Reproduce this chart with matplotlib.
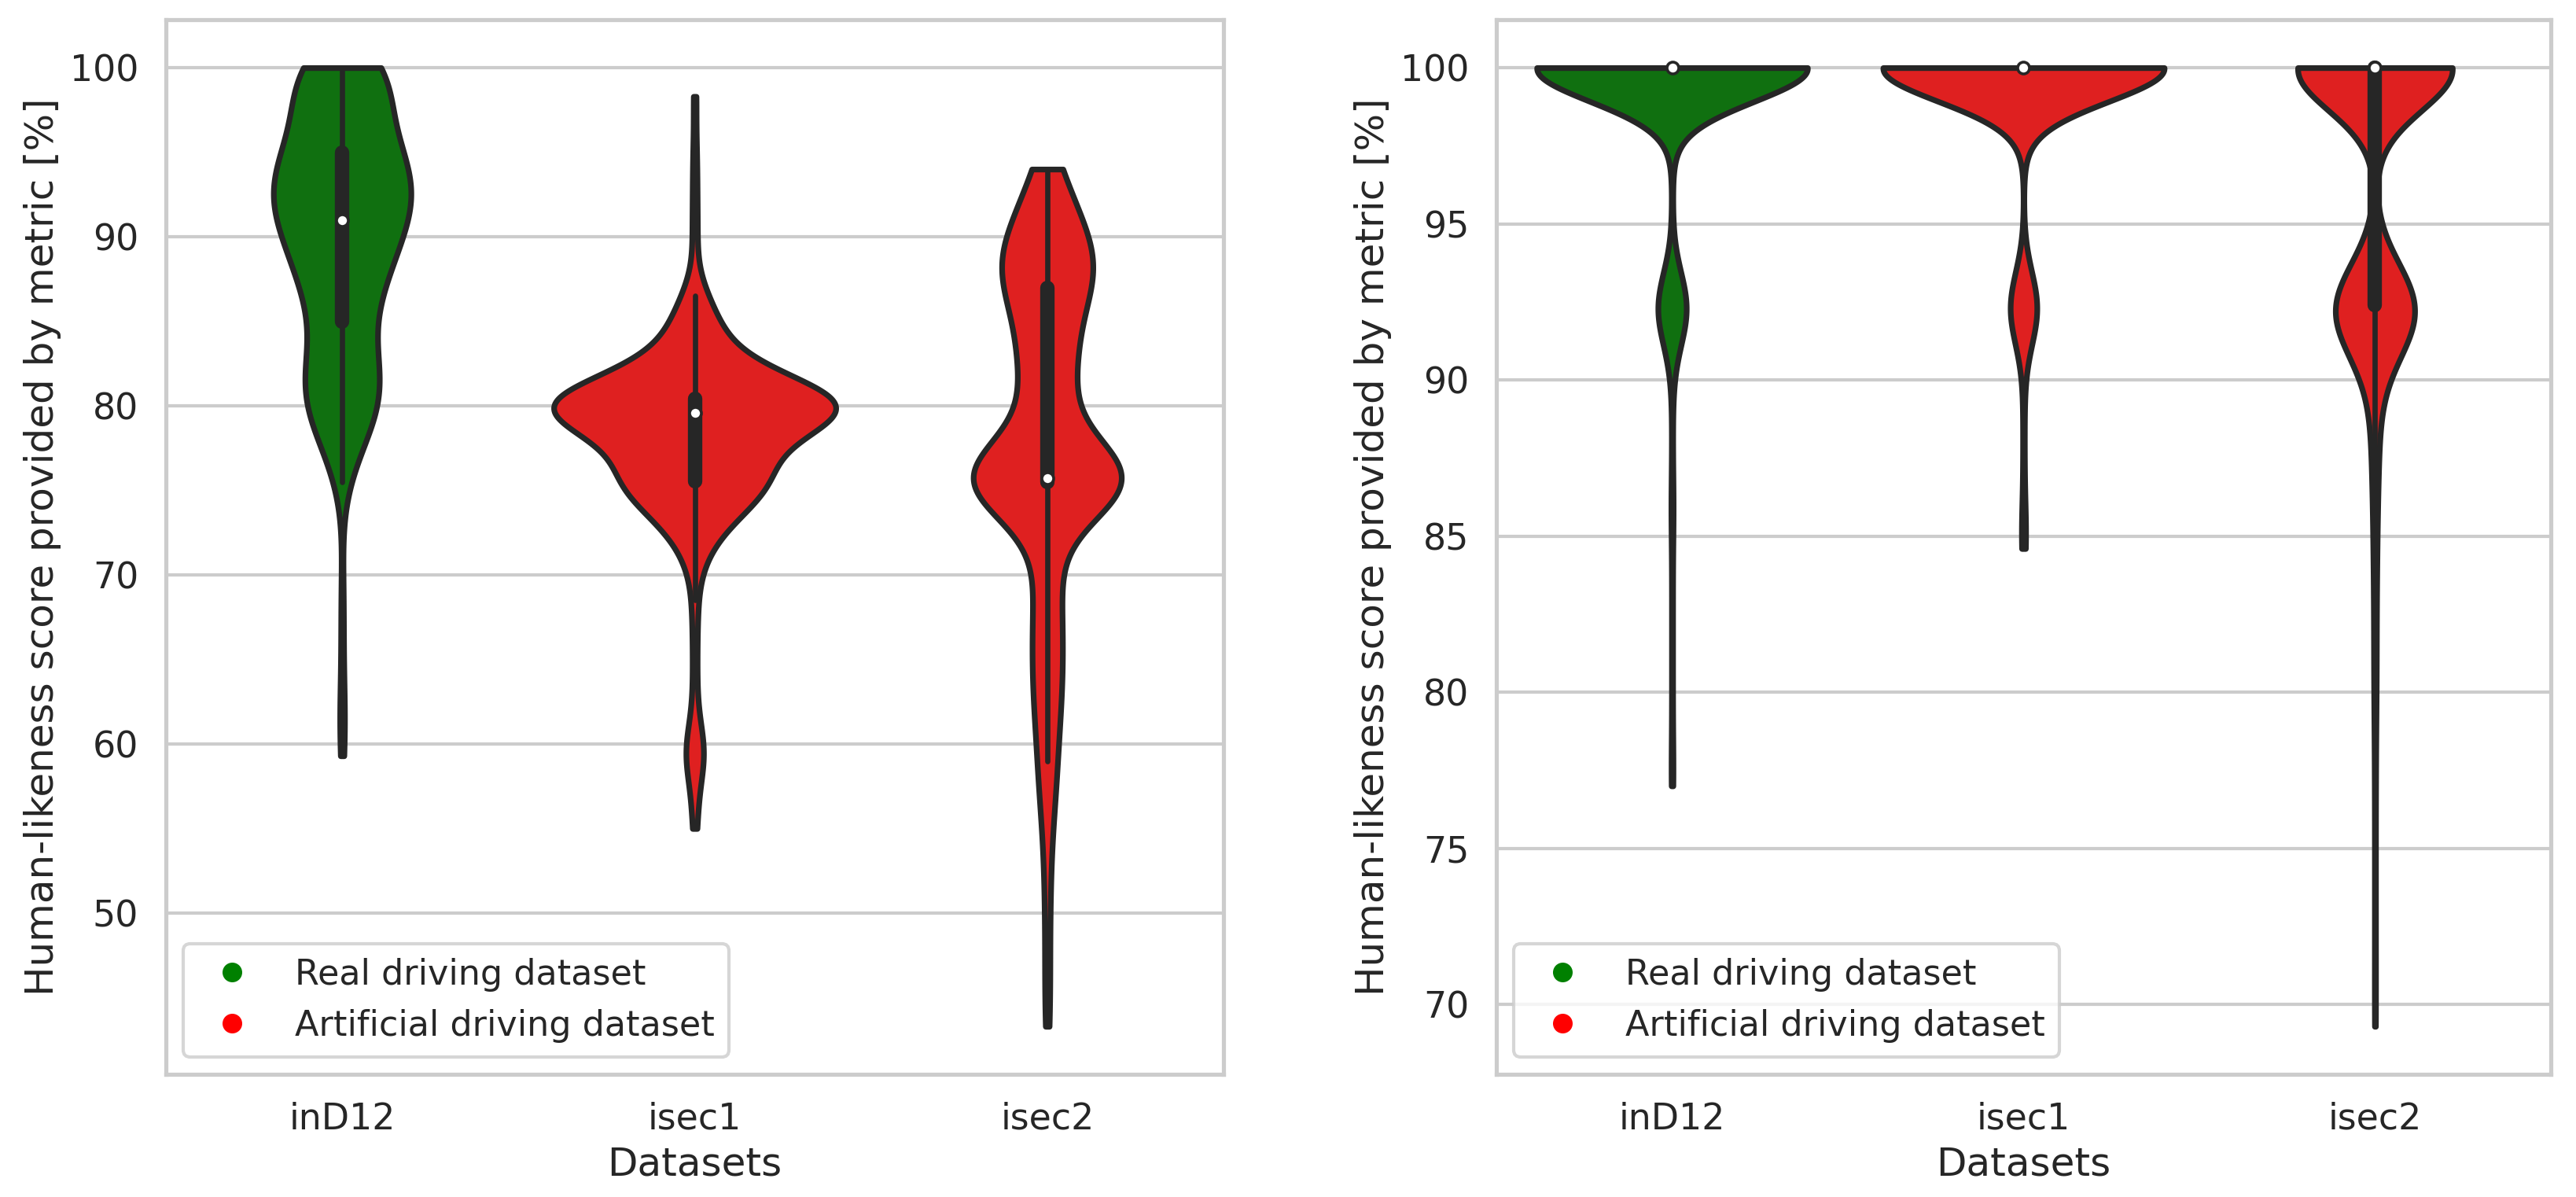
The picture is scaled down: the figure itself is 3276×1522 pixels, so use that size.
import numpy as np
import matplotlib
matplotlib.use("Agg")
import matplotlib.pyplot as plt
import matplotlib.cbook as cbook
from matplotlib.lines import Line2D
from matplotlib.ticker import MultipleLocator
import seaborn as sns

# categories
datasets = ["inD12", "isec1", "isec2"]
is_real = [True, False, False]

# left panel: score values and how often they occur
ind12_left_scores = [59.3, 60, 61.5, 62, 64, 66, 68, 69.5, 75.5, 76, 77, 78, 79, 80, 81, 82, 83, 84,
                     85, 86, 87, 88, 89, 90, 91, 92, 93, 94, 95, 96, 97, 98, 99, 100]
ind12_left_counts = [1, 1, 2, 1, 1, 1, 1, 1, 2, 3, 5, 9, 14, 17, 18, 17, 13, 10,
                     11, 13, 17, 19, 21, 23, 27, 31, 31, 29, 24, 19, 17, 16, 16, 45]

isec1_left_scores = [55, 56.5, 58, 59, 59.5, 60, 61, 63, 65, 67, 68.5, 70, 71, 72, 73, 74, 75, 75.4,
                     76, 77, 78, 79, 79.6, 80, 80.4, 81, 82, 83, 84, 85, 86, 86.5, 89.5, 91, 93, 95, 98.3]
isec1_left_counts = [1, 1, 1, 2, 2, 2, 1, 1, 1, 1, 1, 1, 2, 4, 7, 11, 12, 14,
                     10, 16, 17, 16, 20, 30, 25, 16, 12, 9, 6, 5, 4, 2, 1, 1, 1, 1, 1]

isec2_left_scores = [43.3, 45, 47, 49, 51, 52.5, 54, 55, 56, 57, 58, 59, 60, 61,
                     62, 63, 64, 65, 66, 67, 68, 69, 70, 71, 72, 73, 74, 75,
                     75.5, 75.6, 75.7, 76, 77, 78, 79, 80, 81, 82, 83, 84, 85, 86, 87,
                     87.4, 88, 89, 90, 91, 92, 93, 94]
isec2_left_counts = [1, 1, 1, 1, 1, 1, 1, 1, 1, 2, 2, 2, 2, 2,
                     3, 3, 3, 3, 3, 3, 3, 3, 2, 2, 3, 3, 3, 3,
                     16, 12, 34, 4, 4, 4, 4, 4, 6, 6, 6, 6, 6, 5, 5,
                     7, 12, 10, 8, 7, 5, 4, 4]

# right panel
ind12_right_scores = [77, 77.3, 78, 79.5, 81, 82.5, 84, 85.5, 86, 87.5, 89, 90.3, 91, 91.6, 92, 92.3,
                      92.6, 93, 93.5, 95.5, 97, 98.3, 98.8, 99.2, 99.6, 100]
ind12_right_counts = [1, 1, 1, 1, 1, 1, 1, 1, 2, 1, 1, 1, 3, 6, 10, 13,
                      11, 6, 2, 1, 1, 2, 3, 5, 8, 420]

isec1_right_scores = [84.6, 84.9, 85.2, 86, 87, 88, 89, 90, 91, 91.6, 92, 92.3, 92.6, 93, 93.5,
                      97.5, 98.3, 98.8, 99.2, 99.6, 100]
isec1_right_counts = [2, 2, 2, 1, 1, 1, 1, 1, 2, 6, 10, 12, 10, 6, 2,
                      1, 2, 3, 5, 8, 440]

isec2_right_scores = [69.3, 71, 73, 75, 77, 78.5, 80, 81.5, 83, 84.5, 86, 87, 88, 89, 90, 90.7,
                      91.2, 91.6, 92, 92.4, 92.8, 93.3, 93.8, 98.5, 99, 99.5, 100]
isec2_right_counts = [1, 1, 1, 1, 1, 1, 2, 2, 2, 3, 3, 3, 4, 5, 5, 5,
                      15, 20, 25, 30, 25, 15, 5, 3, 5, 10, 225]

left_data = [np.repeat(ind12_left_scores, ind12_left_counts),
             np.repeat(isec1_left_scores, isec1_left_counts),
             np.repeat(isec2_left_scores, isec2_left_counts)]
right_data = [np.repeat(ind12_right_scores, ind12_right_counts),
              np.repeat(isec1_right_scores, isec1_right_counts),
              np.repeat(isec2_right_scores, isec2_right_counts)]

# kde bandwidth (in score units) and max violin width per dataset
left_bw = [2.2, 1.6, 2.3]
right_bw = [1.05, 1.05, 1.3]
left_widths = [0.39, 0.80, 0.42]
right_widths = [0.77, 0.80, 0.44]

sns.set_theme(style="whitegrid", context="talk")

dark = "#262626"
fill_real = sns.desaturate("green", 0.75)
fill_art = sns.desaturate("red", 0.75)


def draw_panel(ax, data, bws, widths, step):
    for pos, vals in enumerate(data):
        vals = np.asarray(vals, dtype=float)
        factor = bws[pos] / np.std(vals, ddof=1)
        parts = ax.violinplot([vals], positions=[pos], widths=widths[pos],
                              showextrema=False, bw_method=factor, points=600)
        for body in parts["bodies"]:
            body.set_facecolor(fill_real if is_real[pos] else fill_art)
            body.set_edgecolor(dark)
            body.set_linewidth(2.6)
            body.set_alpha(1)
            body.set_zorder(2)

        # inner box like seaborn
        st = cbook.boxplot_stats(vals)[0]
        ax.plot([pos, pos], [st["whislo"], st["whishi"]], color=dark, lw=2.4,
                solid_capstyle="round", zorder=3)
        ax.plot([pos, pos], [st["q1"], st["q3"]], color=dark, lw=6.6,
                solid_capstyle="round", zorder=3)
        ax.plot([pos], [st["med"]], marker="o", ms=5.4, mfc="white", mec=dark,
                mew=1.3, zorder=4, linestyle="none")

    ax.set_xlim(-0.5, 2.5)
    ax.set_xticks(range(len(datasets)))
    ax.set_xticklabels(datasets)
    ax.yaxis.set_major_locator(MultipleLocator(step))
    ax.grid(False, axis="x")
    ax.set_xlabel("Datasets")
    ax.set_ylabel("Human-likeness score provided by metric [%]")

    handles = [Line2D([0], [0], marker="o", color="none", markerfacecolor="green",
                      markeredgecolor="green", markersize=8, label="Real driving dataset"),
               Line2D([0], [0], marker="o", color="none", markerfacecolor="red",
                      markeredgecolor="red", markersize=8, label="Artificial driving dataset")]
    ax.legend(handles=handles, loc="lower left", fontsize=16)


fig = plt.figure(figsize=(16.38, 7.61), dpi=200)
ax1 = fig.add_axes([0.0644, 0.1025, 0.4106, 0.881])
ax2 = fig.add_axes([0.5809, 0.1025, 0.4093, 0.881])

draw_panel(ax1, left_data, left_bw, left_widths, 10)
draw_panel(ax2, right_data, right_bw, right_widths, 5)

fig.savefig("out.png", dpi=200)
